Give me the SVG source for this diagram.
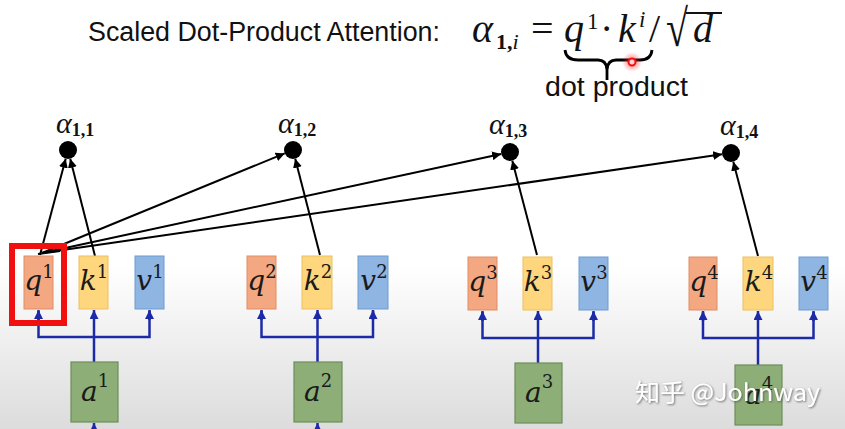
<svg xmlns="http://www.w3.org/2000/svg" width="845" height="429" viewBox="0 0 845 429">
<defs>
  <linearGradient id="bg" x1="0" y1="0" x2="0" y2="1">
    <stop offset="0" stop-color="#ffffff"/>
    <stop offset="0.62" stop-color="#ffffff"/>
    <stop offset="1" stop-color="#dcdcdc"/>
  </linearGradient>
  <radialGradient id="glow">
    <stop offset="0" stop-color="#ff3030" stop-opacity="0.7"/>
    <stop offset="1" stop-color="#ff3030" stop-opacity="0"/>
  </radialGradient>
  <marker id="ab" viewBox="0 0 10 10" refX="10" refY="5" markerWidth="9" markerHeight="9" markerUnits="userSpaceOnUse" orient="auto">
    <path d="M0,0 L10,5 L0,10 z" fill="#000"/>
  </marker>
  <marker id="au" viewBox="0 0 10 10" refX="10" refY="5" markerWidth="9" markerHeight="9" markerUnits="userSpaceOnUse" orient="auto">
    <path d="M0,0 L10,5 L0,10 z" fill="#1c2aa8"/>
  </marker>
  <filter id="sh" x="-10%" y="-30%" width="130%" height="160%">
    <feDropShadow dx="1" dy="1" stdDeviation="1" flood-color="#555" flood-opacity="0.8"/>
  </filter>
</defs>
<style>
  .title { font-family: "Liberation Sans", Arial, sans-serif; font-size: 27px; fill: #111; }
  .m { font-family: "Liberation Serif", "DejaVu Serif", serif; fill: #111; }
  .it { font-style: italic; }
  .q { fill: #f4a882; stroke: #de8d67; stroke-width: 1; }
  .k { fill: #fdd67e; stroke: #eec060; stroke-width: 1; }
  .v { fill: #8fb5e3; stroke: #6e9bd0; stroke-width: 1; }
  .a { fill: #8eae78; stroke: #6d8e5a; stroke-width: 1.2; }
  .bl { font-family: "DejaVu Serif", "Liberation Serif", serif; font-style: italic; font-size: 28px; fill: #1a1a1a; text-anchor: middle; }
  .sup { font-style: normal; font-size: 18px; }
  .al { font-family: "Liberation Serif", "DejaVu Serif", serif; font-size: 30px; font-style: italic; fill: #111; }
  .sub { font-style: normal; font-weight: bold; font-size: 18px; }
  .blk { fill: none; stroke: #000; stroke-width: 2; marker-end: url(#ab); }
  .blu { fill: none; stroke: #1c2aa8; stroke-width: 2.5; }
  .blua { fill: none; stroke: #1c2aa8; stroke-width: 2.5; marker-end: url(#au); }
  .dot { fill: #000; }
</style>
<rect x="0" y="0" width="845" height="429" fill="url(#bg)"/>

<g id="title">
  <text class="title" x="88" y="41" textLength="352" lengthAdjust="spacingAndGlyphs">Scaled Dot-Product Attention:</text>
  <text class="m it" x="472" y="42" font-size="40">α</text>
  <text class="m" x="496" y="49" font-size="22" font-weight="bold">1,<tspan font-style="italic" font-weight="normal">i</tspan></text>
  <text class="m" x="531" y="42" font-size="40">=</text>
  <text class="m it" x="564" y="42" font-size="40">q</text>
  <text class="m" x="587" y="29" font-size="23">1</text>
  <text class="m" x="600" y="42" font-size="40">·</text>
  <text class="m it" x="618" y="42" font-size="40">k</text>
  <text class="m it" x="639" y="27" font-size="23">i</text>
  <text class="m" x="649" y="42" font-size="40">/</text>
  <text class="m" transform="translate(666,46) scale(1,1.3)" x="0" y="0" font-size="40">√</text>
  <line x1="686" y1="13" x2="722" y2="13" stroke="#111" stroke-width="1.8"/>
  <text class="m it" x="693" y="42" font-size="40">d</text>
  <path d="M565,50 Q566,60 578,60 L598,60 Q606,60 607,69 Q608,60 616,60 L640,60 Q651,60 652,50" fill="none" stroke="#000" stroke-width="2.8"/>
  <line x1="607" y1="64" x2="607" y2="80" stroke="#000" stroke-width="2.8"/>
  <text class="title" x="545" y="96" font-size="26px" textLength="143" lengthAdjust="spacingAndGlyphs">dot product</text>
  <circle cx="632" cy="62" r="10" fill="url(#glow)"/>
  <circle cx="632" cy="62" r="3.5" fill="#ffd0d0" stroke="#ee1111" stroke-width="2"/>
</g>

<g id="connectors">
  <path class="blk" d="M40,255 L65.7,158.7"/>
  <path class="blk" d="M95,256 L70.2,158.7"/>
  <path d="M38,254 L60,251" stroke="#000" stroke-width="2"/>
  <path class="blk" d="M42,253 L284.7,153.4"/>
  <path class="blk" d="M42,253 L501.2,153.9"/>
  <path class="blk" d="M42,253 L722.1,154.3"/>
  <path class="blk" d="M320,255 L295.2,158.7"/>
  <path class="blk" d="M537,255 L512.3,160.7"/>
  <path class="blk" d="M758,256 L733.3,161.7"/>
  <path class="blu" d="M38.5,311 V337 H149.5 V311"/>
  <path class="blua" d="M38.5,320 V310"/>
  <path class="blua" d="M149.5,320 V310"/>
  <path class="blua" d="M94,362 V310"/>
  <path class="blua" d="M94,440 V423"/>
  <path class="blu" d="M261.5,311 V337 H373 V311"/>
  <path class="blua" d="M261.5,320 V310"/>
  <path class="blua" d="M373,320 V310"/>
  <path class="blua" d="M317.5,362 V310"/>
  <path class="blua" d="M317.5,440 V423"/>
  <path class="blu" d="M482.5,312 V338 H593.5 V312"/>
  <path class="blua" d="M482.5,321 V311"/>
  <path class="blua" d="M593.5,321 V311"/>
  <path class="blua" d="M538,363 V311"/>
  <path class="blu" d="M703,312 V338 H813.5 V312"/>
  <path class="blua" d="M703,321 V311"/>
  <path class="blua" d="M813.5,321 V311"/>
  <path class="blua" d="M758,365 V311"/>
</g>

<g id="alpha11"><circle class="dot" cx="68" cy="150" r="9"/><text class="al" x="56" y="133">α<tspan class="sub" dy="3">1,1</tspan></text></g>
<g id="alpha12"><circle class="dot" cx="293" cy="150" r="9"/><text class="al" x="278" y="133">α<tspan class="sub" dy="3">1,2</tspan></text></g>
<g id="alpha13"><circle class="dot" cx="510" cy="152" r="9"/><text class="al" x="489" y="134">α<tspan class="sub" dy="3">1,3</tspan></text></g>
<g id="alpha14"><circle class="dot" cx="731" cy="153" r="9"/><text class="al" x="720" y="135">α<tspan class="sub" dy="3">1,4</tspan></text></g>

<g id="q1"><rect class="q" x="24" y="256" width="29" height="53"/><text class="bl" x="39" y="290">q<tspan class="sup" dy="-12">1</tspan></text></g>
<g id="q1-highlight"><rect x="12" y="246" width="52" height="77" fill="none" stroke="#f01010" stroke-width="6"/></g>
<g id="k1"><rect class="k" x="79" y="256" width="29" height="53"/><text class="bl" x="94" y="290">k<tspan class="sup" dy="-12">1</tspan></text></g>
<g id="v1"><rect class="v" x="135" y="256" width="29" height="53"/><text class="bl" x="150" y="290" fill="#1a2540">v<tspan class="sup" dy="-12">1</tspan></text></g>

<g id="q2"><rect class="q" x="247" y="256" width="29" height="53"/><text class="bl" x="262" y="290">q<tspan class="sup" dy="-12">2</tspan></text></g>
<g id="k2"><rect class="k" x="302" y="256" width="30" height="53"/><text class="bl" x="318" y="290">k<tspan class="sup" dy="-12">2</tspan></text></g>
<g id="v2"><rect class="v" x="358" y="256" width="30" height="53"/><text class="bl" x="374" y="290" fill="#1a2540">v<tspan class="sup" dy="-12">2</tspan></text></g>

<g id="q3"><rect class="q" x="468" y="257" width="29" height="53"/><text class="bl" x="483" y="291">q<tspan class="sup" dy="-12">3</tspan></text></g>
<g id="k3"><rect class="k" x="523" y="257" width="29" height="53"/><text class="bl" x="538" y="291">k<tspan class="sup" dy="-12">3</tspan></text></g>
<g id="v3"><rect class="v" x="579" y="257" width="29" height="53"/><text class="bl" x="594" y="291" fill="#1a2540">v<tspan class="sup" dy="-12">3</tspan></text></g>

<g id="q4"><rect class="q" x="689" y="257" width="28" height="53"/><text class="bl" x="704" y="291">q<tspan class="sup" dy="-12">4</tspan></text></g>
<g id="k4"><rect class="k" x="743" y="257" width="30" height="53"/><text class="bl" x="759" y="291">k<tspan class="sup" dy="-12">4</tspan></text></g>
<g id="v4"><rect class="v" x="799" y="257" width="29" height="53"/><text class="bl" x="814" y="291" fill="#1a2540">v<tspan class="sup" dy="-12">4</tspan></text></g>

<g id="a1"><rect class="a" x="71" y="362" width="47" height="60"/><text class="bl" x="95" y="401" font-size="33px">a<tspan class="sup" font-size="21px" dy="-14">1</tspan></text></g>
<g id="a2"><rect class="a" x="294" y="362" width="48" height="60"/><text class="bl" x="318" y="401" font-size="33px">a<tspan class="sup" font-size="21px" dy="-14">2</tspan></text></g>
<g id="a3"><rect class="a" x="515" y="363" width="47" height="60"/><text class="bl" x="539" y="402" font-size="33px">a<tspan class="sup" font-size="21px" dy="-14">3</tspan></text></g>
<g id="a4"><rect class="a" x="735" y="365" width="47" height="60"/><text class="bl" x="759" y="404" font-size="33px">a<tspan class="sup" font-size="21px" dy="-14">4</tspan></text></g>

<g id="watermark"><text x="635" y="401" font-family="'Noto Sans CJK SC', 'Noto Sans', sans-serif" font-size="24" fill="#ffffff" filter="url(#sh)" textLength="185" lengthAdjust="spacingAndGlyphs">知乎 @Johnway</text></g>
</svg>
